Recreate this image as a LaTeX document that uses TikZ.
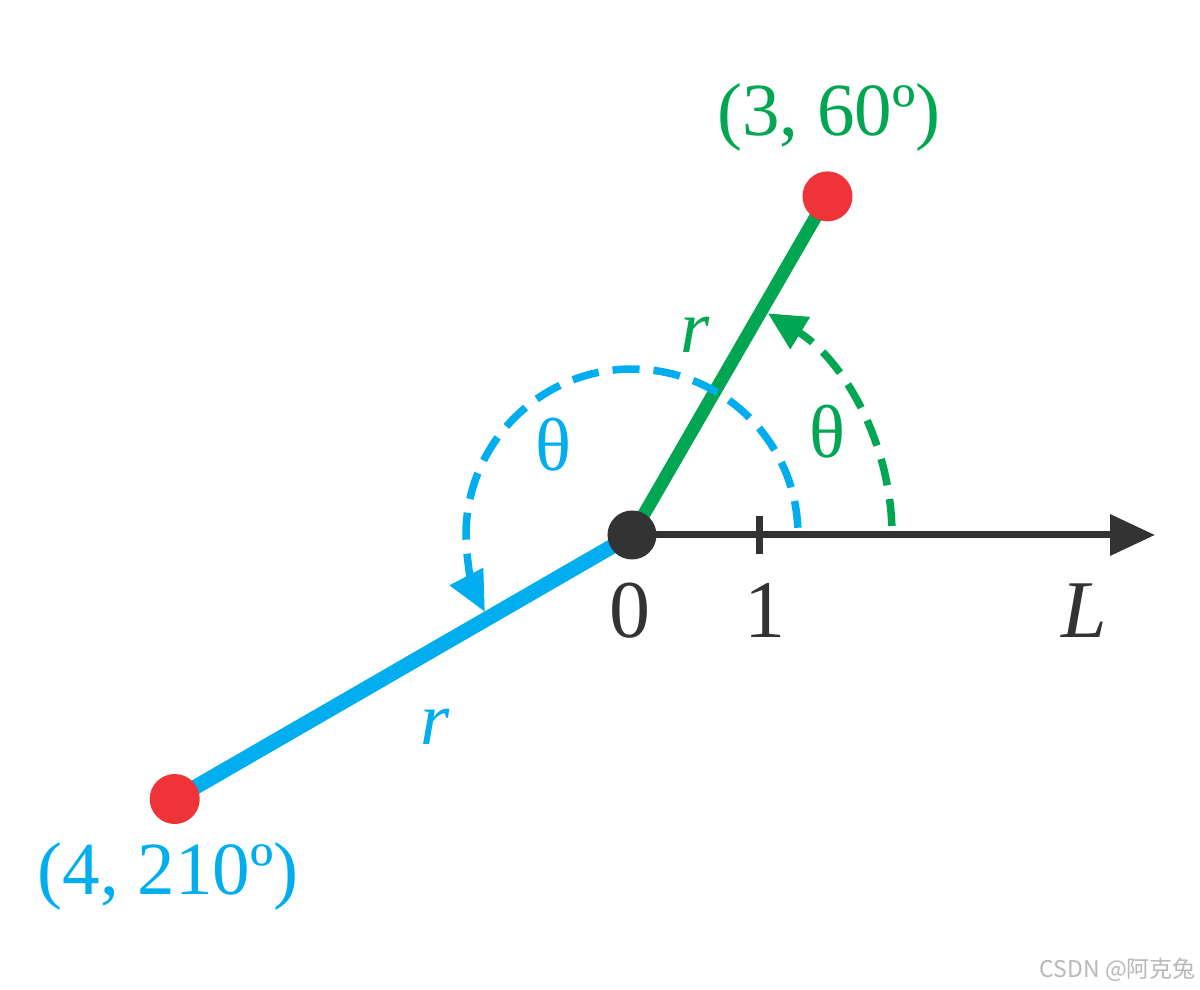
\documentclass[tikz,border=0pt]{standalone}
\usepackage{fontspec}
\setmainfont{Liberation Serif}
\newfontfamily\cjkwm{Noto Sans CJK SC}
\usetikzlibrary{arrows.meta}
\definecolor{pgreen}{HTML}{00A651}
\definecolor{pblue}{HTML}{00AEEF}
\definecolor{pred}{HTML}{EF3338}
\definecolor{pdark}{HTML}{333333}
\tikzset{
  big/.style={font=\fontsize{75}{90}\selectfont, inner sep=0pt, anchor=base},
  axlab/.style={font=\fontsize{82}{96}\selectfont, inner sep=0pt, anchor=base, text=pdark},
  dasharc/.style={line width=7.5pt, dash pattern=on 27pt off 14pt},
  dot/.style={circle, inner sep=0pt, minimum size=50pt},
}
\begin{document}
\begin{tikzpicture}[x=1pt,y=1pt]
\useasboundingbox[fill=white] (-632,-455) rectangle (568,535);
% axis
\coordinate (O) at (0,0);
\coordinate (Lend) at (523,0);
\draw[pdark, line width=7pt, -{Triangle[length=45pt,width=40pt]}] (O) -- (Lend);
\coordinate (t1) at (128,19);
\coordinate (t2) at (128,-19);
\draw[pdark, line width=7pt] (t1) -- (t2);
% rays
\coordinate (P) at (60:391);
\coordinate (Q) at (210:528);
\draw[pgreen, line width=13pt] (O) -- (P);
\draw[pblue, line width=15pt] (O) -- (Q);
% arcs
\draw[pgreen, dasharc, -{Triangle[length=38pt,width=36pt]}] (2:260) arc[start angle=2, end angle=58.5, radius=260];
\draw[pblue, dasharc, -{Triangle[length=40pt,width=36pt]}] (2.5:166) arc[start angle=2.5, end angle=207.6, radius=166];
% dots
\node[dot, fill=pred] (Pdot) at (P) {};
\node[dot, fill=pred] (Qdot) at (Q) {};
\node[dot, fill=pdark, minimum size=49pt] (Odot) at (O) {};
% labels
\node[big, text=pgreen] (lp) at (197,399) {(3, 60º)};
\node[big, text=pblue] (lq) at (-464,-359) {(4, 210º)};
\node[axlab] (l0) at (-2,-103) {0};
\node[axlab] (l1) at (133,-103) {1};
\node[axlab] (lL) at (452,-103) {\itshape L};
\node[big, text=pgreen] (rg) at (63,182) {\itshape r};
\node[big, text=pgreen] (thg) at (195,77) {θ};
\node[big, text=pblue] (thb) at (-79,64) {θ};
\node[big, text=pblue] (rb) at (-197,-210) {\itshape r};
\node[font=\cjkwm\fontsize{23}{27}\selectfont, text=black!28, anchor=east, inner sep=0pt] (wm) at (564,-435) {CSDN @阿克兔};
\end{tikzpicture}
\end{document}
